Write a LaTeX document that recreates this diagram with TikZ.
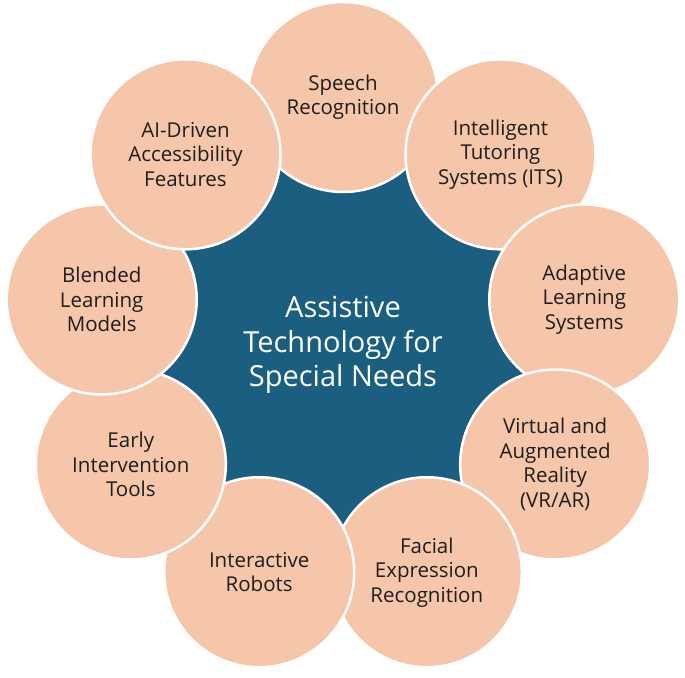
\documentclass[tikz,border=0pt]{standalone}
\usepackage{fontspec}
\setmainfont{Open Sans}
\usetikzlibrary{shapes.geometric}
\definecolor{hubblue}{HTML}{1A5F80}
\definecolor{peach}{HTML}{F5C6AA}
\definecolor{inktext}{HTML}{1E1E1E}
\tikzset{
  hub/.style={regular polygon, regular polygon sides=9, shape border rotate=180, minimum size=374pt, inner sep=0pt, fill=hubblue, text=white, align=center, font=\fontsize{29}{34.5}\selectfont},
  bub/.style={circle, minimum size=190pt, inner sep=0pt, fill=peach, draw=white, line width=2.5pt, text=inktext, align=center, font=\fontsize{20.5}{24.5}\selectfont},
}
\begin{document}
\begin{tikzpicture}[x=1pt, y=1pt]
\useasboundingbox (-343,-335) rectangle (342,342);

\node[hub] (hub) at (0,-3) {Assistive\\Technology for\\Special Needs};

% drawn clockwise, each one over the last
\node[bub] (speech) at (90:245) {Speech\\Recognition};
\node[bub] (its) at (50:245) {Intelligent\\Tutoring\\Systems (ITS)};
\node[bub] (adapt) at (10:245) {Adaptive\\Learning\\Systems};
\node[bub] (vrar) at (-30:245) {Virtual and\\Augmented\\Reality\\(VR/AR)};
\node[bub] (facial) at (-70:245) {Facial\\Expression\\Recognition};
\node[bub] (robots) at (-110:245) {Interactive\\Robots};
\node[bub] (early) at (-150:245) {Early\\Intervention\\Tools};
\node[bub] (blend) at (170:245) {Blended\\Learning\\Models};
\node[bub] (aidriven) at (130:245) {AI-Driven\\Accessibility\\Features};

\end{tikzpicture}
\end{document}
